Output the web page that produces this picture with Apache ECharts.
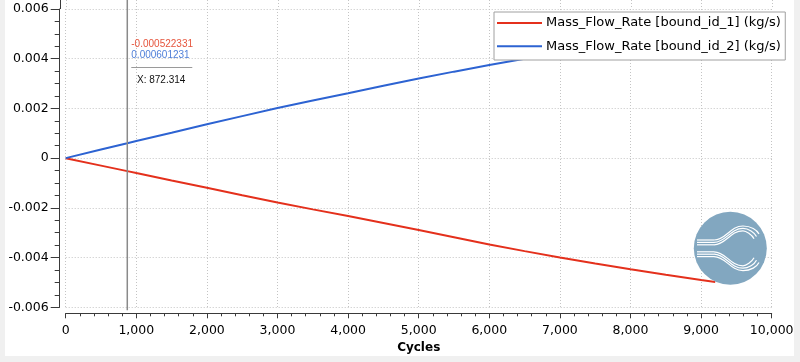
<!DOCTYPE html>
<html><head><meta charset="utf-8">
<script src="https://cdn.jsdelivr.net/npm/echarts@6/dist/echarts.min.js"></script>
<style>
html,body{margin:0;padding:0;background:#f0f0f0}
#wrap{position:relative;width:800px;height:362px;background:#f0f0f0;overflow:hidden}
#paper{position:absolute;left:5px;top:0;width:789px;height:356px;background:#fff}
#c{position:absolute;left:0;top:0;width:800px;height:362px}
</style>
</head><body>
<div id="wrap"><div id="paper"></div><div id="c"></div></div>
<script>
// ---- data ----
const cycles = [0, 500, 872.314, 1000, 1500, 2000, 2500, 3000, 3500, 4000, 4500, 5000, 5500, 6000, 6500, 7000, 7500, 8000, 8500, 9000, 9200];
const flowBound1 = [0, -0.0003, -0.000522331, -0.0006, -0.0009, -0.00119, -0.00149, -0.00178, -0.00206, -0.00233, -0.00261, -0.00289, -0.00318, -0.00347, -0.00374, -0.004, -0.00424, -0.00447, -0.00469, -0.0049, -0.00498];
const flowBound2 = [0, 0.00035, 0.000601231, 0.00069, 0.00102, 0.00136, 0.00169, 0.00202, 0.00232, 0.00261, 0.00291, 0.0032, 0.00348, 0.00375, 0.004, 0.00425, 0.0045, 0.00474, 0.00497, 0.0052, 0.00529];
const seriesNames = ['Mass_Flow_Rate [bound_id_1] (kg/s)', 'Mass_Flow_Rate [bound_id_2] (kg/s)'];
const xAxisName = 'Cycles';
const xTickValues = [0, 1000, 2000, 3000, 4000, 5000, 6000, 7000, 8000, 9000, 10000];
const cursorX = 872.314;
const cursorLabels = ['-0.000522331', '0.000601231', 'X: 872.314'];

const RED = '#e4301c', BLUE = '#2d63d2';
const FONT = 'DejaVu Sans';

const chart = echarts.init(document.getElementById('c'), null, {renderer: 'canvas'});
const axisCol = '#3a3a3a';
const gridLine = {show: true, lineStyle: {color: '#c4c4c4', width: 1, type: [1, 2]}};

const option = {
  animation: false,
  backgroundColor: 'transparent',
  textStyle: {fontFamily: FONT},
  grid: {left: 65.7, right: 28.3, top: 9, bottom: 54.7, containLabel: false},
  legend: {
    orient: 'vertical', left: 494, top: 12,
    padding: [3, 4.5, 5.7, 3], itemGap: 7.3,
    itemWidth: 45, itemHeight: 2, icon: 'rect',
    backgroundColor: '#fff', borderColor: '#a0a0a0', borderWidth: 1,
    selectedMode: false,
    textStyle: {fontFamily: FONT, fontSize: 13, color: '#000', lineHeight: 16, padding: [0, 0, 0, -1]},
    data: seriesNames
  },
  xAxis: {
    type: 'value', min: 0, max: 10000, interval: 1000, offset: 6,
    name: xAxisName, nameLocation: 'middle', nameGap: 28,
    nameTextStyle: {fontFamily: FONT, fontSize: 12, fontWeight: 'bold', color: '#000'},
    axisLine: {show: true, onZero: false, lineStyle: {color: axisCol, width: 1}},
    axisTick: {show: true, inside: false, length: 5, lineStyle: {color: axisCol}},
    minorTick: {show: true, splitNumber: 5, length: 3, lineStyle: {color: axisCol}},
    axisLabel: {fontFamily: FONT, fontSize: 12.5, color: '#000', margin: 11,
      formatter: v => v.toLocaleString('en-US')},
    splitLine: gridLine
  },
  yAxis: {
    type: 'value', min: -0.006, max: 0.006, interval: 0.002, offset: 6,
    axisLine: {show: true, onZero: false, lineStyle: {color: axisCol, width: 1}},
    axisTick: {show: true, inside: false, length: 9, lineStyle: {color: axisCol}},
    minorTick: {show: true, splitNumber: 4, length: 5, lineStyle: {color: axisCol}},
    axisLabel: {fontFamily: FONT, fontSize: 12.5, color: '#000', margin: 11,
      formatter: v => String(Math.round(v * 1000) / 1000)},
    splitLine: gridLine
  },
  series: [
    {name: seriesNames[0], type: 'line', showSymbol: false, symbol: 'none', color: RED,
      lineStyle: {width: 2, color: RED}, z: 3,
      data: cycles.map((c, i) => [c, flowBound1[i]])},
    {name: seriesNames[1], type: 'line', showSymbol: false, symbol: 'none', color: BLUE,
      lineStyle: {width: 2, color: BLUE}, z: 3,
      data: cycles.map((c, i) => [c, flowBound2[i]])}
  ]
};
chart.setOption(option);

// ---- annotations positioned through the chart's scales ----
const px = v => chart.convertToPixel({xAxisIndex: 0}, v);
const topY = chart.convertToPixel({yAxisIndex: 0}, 0.006);
const botY = chart.convertToPixel({yAxisIndex: 0}, -0.006);
const cx = px(cursorX);
const axisX = px(0) - 6;

const graphics = [];
// extensions of grid lines and y axis above the top tick
xTickValues.forEach(v => {
  const x = Math.round(px(v)) + 0.5;
  graphics.push({type: 'line', z: 1, silent: true,
    shape: {x1: x, y1: 0, x2: x, y2: topY},
    style: {stroke: '#c4c4c4', lineWidth: 1, lineDash: [1, 2]}});
});
graphics.push({type: 'line', z: 1, silent: true,
  shape: {x1: Math.round(axisX) + 0.5, y1: 0, x2: Math.round(axisX) + 0.5, y2: topY},
  style: {stroke: axisCol, lineWidth: 1}});

// cursor
graphics.push({type: 'line', z: 5, silent: true,
  shape: {x1: cx, y1: 0, x2: cx, y2: botY + 3},
  style: {stroke: '#8a8a8a', lineWidth: 1.5}});
graphics.push({type: 'text', z: 6, silent: true, x: cx + 4, y: 44.5,
  style: {text: cursorLabels[0], fill: '#e6553d', font: '10px "Liberation Sans"', textVerticalAlign: 'middle'}});
graphics.push({type: 'text', z: 6, silent: true, x: cx + 4, y: 55,
  style: {text: cursorLabels[1], fill: '#4f7fd8', font: '10px "Liberation Sans"', textVerticalAlign: 'middle'}});
graphics.push({type: 'line', z: 6, silent: true,
  shape: {x1: cx + 4, y1: 67.5, x2: cx + 65, y2: 67.5},
  style: {stroke: '#9a9a9a', lineWidth: 1}});
graphics.push({type: 'text', z: 6, silent: true, x: cx + 9.7, y: 80,
  style: {text: cursorLabels[2], fill: '#111', font: '10px "Liberation Sans"', textVerticalAlign: 'middle'}});

// logo
const lcx = 730.3, lcy = 248.3;
graphics.push({type: 'circle', z: 20, silent: true, shape: {cx: lcx, cy: lcy, r: 36.5},
  style: {fill: '#82a7c0'}});
const wave = {stroke: '#fff', lineWidth: 1.2, fill: null};
for (let i = 0; i < 3; i++) {
  const d = 2.4 * i;
  const e = 2.5 * i;
  [1, -1].forEach(s => {
    const Y = y => lcy + s * (y - lcy);
    graphics.push({type: 'line', z: 21, silent: true,
      shape: {x1: 697, y1: Y(240 + d), x2: 714, y2: Y(240 + d)}, style: wave});
    graphics.push({type: 'bezierCurve', z: 21, silent: true,
      shape: {x1: 714, y1: Y(240 + d), cpx1: 726, cpy1: Y(240 + d), cpx2: 730, cpy2: Y(226 + d), x2: 743, y2: Y(226 + d)},
      style: wave});
    graphics.push({type: 'bezierCurve', z: 21, silent: true,
      shape: {x1: 743, y1: Y(226 + d), cpx1: 751 - e, cpy1: Y(226 + d), cpx2: 757 - e, cpy2: Y(230 + d), x2: 759 - e, y2: Y(234 + d)},
      style: wave});
  });
}
chart.setOption({graphic: graphics});
</script>
</body></html>
